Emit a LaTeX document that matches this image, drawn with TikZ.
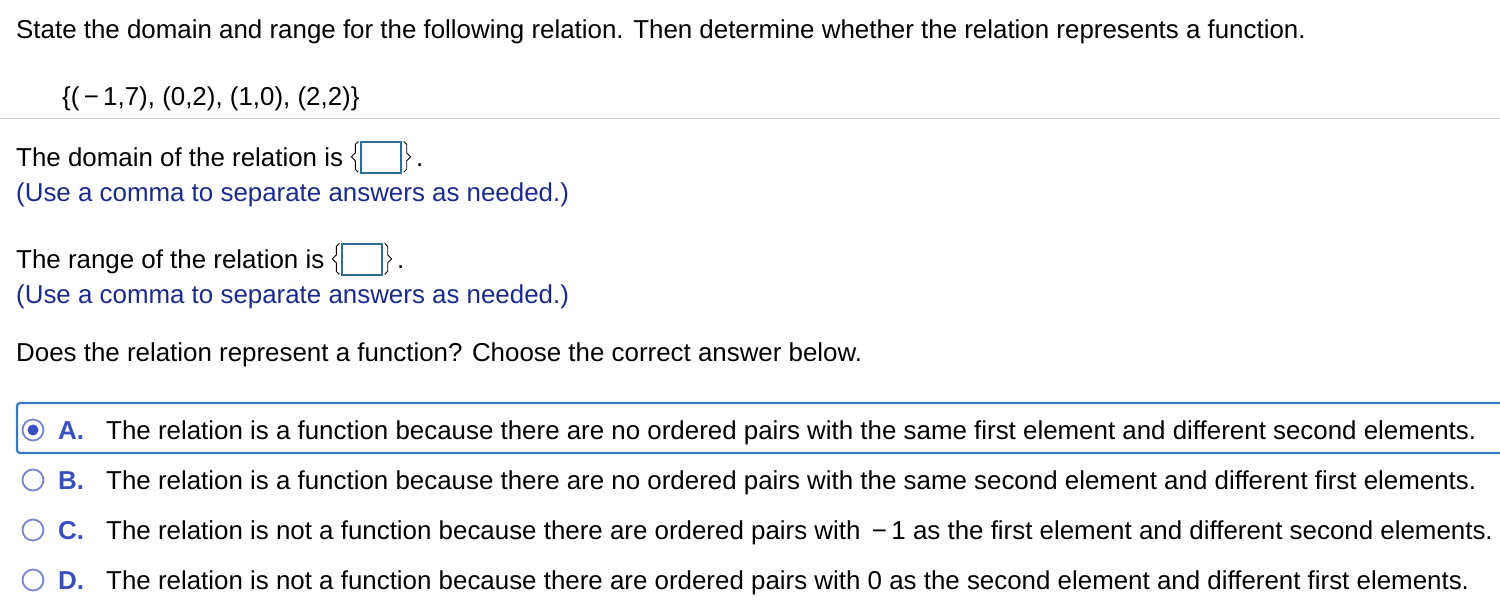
\documentclass[tikz,border=0pt]{standalone}
\usepackage{fontspec}
\setmainfont{Liberation Sans}
\definecolor{navy}{HTML}{1A2A8C}
\definecolor{optblue}{HTML}{3A4FBF}
\definecolor{boxblue}{HTML}{3A78C0}
\definecolor{ansbox}{HTML}{2E6E94}
\begin{document}
\begin{tikzpicture}[x=1pt,y=-1pt,
  txt/.style={anchor=base west,inner sep=0pt,font=\fontsize{25.9}{28}\selectfont},
  note/.style={txt,text=navy},
  lett/.style={txt,text=optblue,font=\fontsize{25.9}{28}\selectfont\bfseries},
  radio/.style={circle,draw=optblue!70,line width=1.8pt,minimum size=21pt,inner sep=0pt},
  abox/.style={draw=ansbox,line width=1.3pt,minimum width=40pt,minimum height=31pt,inner sep=0pt}]
\useasboundingbox (0,0) rectangle (1500,610);
\node[txt] (q) at (16,39) {State the domain and range for the following relation. Then determine whether the relation represents a function.};
\node[txt] (set) at (62,106) {\{(\,−\,1,7), (0,2), (1,0), (2,2)\}};
\draw[gray!35,line width=1pt] (0,118) -- (1500,118);
\node[txt] (dom) at (16,166) {The domain of the relation is};
\node[abox] (db) at (381,157.5) {};
\draw[line width=0.8pt] ([xshift=-2pt]db.north west) -- ++(-3,3) -- ++(0,8.5) -- ++(-4,4) -- ++(4,4) -- ++(0,8.5) -- ++(3,3);
\draw[line width=0.8pt] ([xshift=2pt]db.north east) -- ++(3,3) -- ++(0,8.5) -- ++(4,4) -- ++(-4,4) -- ++(0,8.5) -- ++(-3,3);
\node[txt] (dd) at (416,166) {.};
\node[note] (n1) at (16,201) {(Use a comma to separate answers as needed.)};
\node[txt] (ran) at (16,268) {The range of the relation is};
\node[abox] (rb) at (362,259.5) {};
\draw[line width=0.8pt] ([xshift=-2pt]rb.north west) -- ++(-3,3) -- ++(0,8.5) -- ++(-4,4) -- ++(4,4) -- ++(0,8.5) -- ++(3,3);
\draw[line width=0.8pt] ([xshift=2pt]rb.north east) -- ++(3,3) -- ++(0,8.5) -- ++(4,4) -- ++(-4,4) -- ++(0,8.5) -- ++(-3,3);
\node[txt] (rd) at (397,268) {.};
\node[note] (n2) at (16,303) {(Use a comma to separate answers as needed.)};
\node[txt] (fq) at (16,361) {Does the relation represent a function? Choose the correct answer below.};
\draw[boxblue,line width=2.2pt,rounded corners=3pt] (1502,403) -- (17,403) -- (17,453) -- (1502,453);
\node[radio] (ra) at (33,430) {};
\fill[optblue] (ra) circle (5.5pt);
\node[lett] (la) at (58,439) {A.};
\node[txt] (ta) at (106,439) {The relation is a function because there are no ordered pairs with the same first element and different second elements.};
\node[radio] (rbb) at (33,480) {};
\node[lett] (lb) at (58,489) {B.};
\node[txt] (tb) at (106,489) {The relation is a function because there are no ordered pairs with the same second element and different first elements.};
\node[radio] (rc) at (33,530) {};
\node[lett] (lc) at (58,539) {C.};
\node[txt] (tc) at (106,539) {The relation is not a function because there are ordered pairs with \,−\,1 as the first element and different second elements.};
\node[radio] (rd2) at (33,580) {};
\node[lett] (ld) at (58,589) {D.};
\node[txt] (td) at (106,589) {The relation is not a function because there are ordered pairs with 0 as the second element and different first elements.};
\end{tikzpicture}
\end{document}
